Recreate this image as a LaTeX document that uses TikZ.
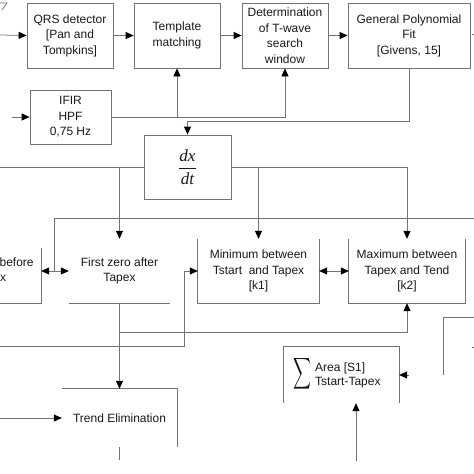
\documentclass[tikz,border=0pt]{standalone}
\usepackage{fontspec}
\usepackage{amsmath}
\usepackage{graphicx}
\setmainfont{Liberation Sans}
\newfontfamily\tnrfont{Liberation Serif}
\usetikzlibrary{arrows.meta}
\newcommand\txtfont{\fontsize{12}{15.5}\selectfont}
\begin{document}
\begin{tikzpicture}[x=1pt,y=-1pt,
  ln/.style={draw=black!55, line width=0.75pt},
  arr/.style={ln, -{Triangle[length=8pt,width=7pt,color=black]}},
  box/.style={draw=black!55, line width=0.75pt, inner sep=0pt, align=center, font=\txtfont, text=black!90},
  obox/.style={inner sep=0pt, align=center, font=\txtfont, text=black!90},
]
\useasboundingbox (0,0) rectangle (474,474);
\clip (0,0) rectangle (474,474);
\fill[white] (0,0) rectangle (474,474);

% top row
\node[box, minimum width=86pt, minimum height=65pt] (qrs) at (70,35.5) {QRS detector\\{}[Pan and\\Tompkins]};
\node[box, minimum width=86pt, minimum height=65pt] (tm) at (177,35.5) {Template\\matching};
\node[box, minimum width=86pt, minimum height=65pt] (det) at (285,35.5) {Determination\\of T-wave\\search\\window};
\node[box, minimum width=122pt, minimum height=65pt] (gpf) at (409,35.5) {General Polynomial\\Fit\\{}[Givens, 15]};
\node[box, minimum width=81pt, minimum height=54pt] (ifir) at (70.5,117) {IFIR\\HPF\\0,75 Hz};
\node[box, minimum width=87pt, minimum height=64pt] (ddt) at (187.5,167)
  {\tnrfont\itshape\fontsize{17}{20}\selectfont $\genfrac{}{}{1.1pt}{0}{\mbox{dx}}{\mbox{dt}}$};

% middle row (open boxes)
\node[obox, minimum width=102pt, minimum height=64pt] (fzb) at (-10,271) {First zero before\\Tapex};
\node[obox, minimum width=101pt, minimum height=64pt] (fza) at (119.5,271) {First zero after\\Tapex};
\node[obox, minimum width=121pt, minimum height=64pt] (minb) at (258.5,271) {Minimum between\\Tstart~ and Tapex\\{}[k1]};
\node[obox, minimum width=116pt, minimum height=64pt] (maxb) at (407,271) {Maximum between\\Tapex and Tend\\{}[k2]};
\draw[ln] (fzb.east |- 0,248) -- (fzb.south east) -- (fzb.south west);
\draw[ln] (fza.south west) -- (fza.south east);
\draw[ln] (minb.north west) -- (minb.south west) -- (minb.south east) -- (minb.north east);
\draw[ln] (maxb.north west) -- (maxb.south west) -- (maxb.south east) -- (maxb.north east);

% bottom
\node[obox, minimum width=115pt, minimum height=58pt] (trend) at (119.5,418) {Trend Elimination};
\draw[ln] (trend.north west) -- (trend.north east) -- (trend.south east);
\node[obox, minimum width=115pt, minimum height=56pt] (area) at (341.5,375) {};
\draw[ln] (area.south west) -- (area.north west) -- (area.north east) -- (area.south east);
\node[obox] (sumsym) at (302.5,374) {\resizebox{18pt}{23pt}{$\displaystyle\sum$}};
\node[obox, anchor=west, align=left, font=\fontsize{12}{14}\selectfont] (areatxt) at (315,375) {Area [S1]\\Tstart-Tapex};

% coordinates for free ends
\coordinate (in0) at (0,35);
\coordinate (in1) at (12,117);
\coordinate (g1) at (187.5,121);
\coordinate (l1) at (0,167);
\coordinate (r1) at (474,218);
\coordinate (k1) at (54,218);
\coordinate (j1) at (54,271);
\coordinate (j2) at (334,271);
\coordinate (l2) at (0,346);
\coordinate (k2) at (184,346);
\coordinate (l3) at (0,418);
\coordinate (b1) at (356,461);
\coordinate (b2) at (409,375);
\coordinate (rb1) at (474,317);
\coordinate (rb2) at (443,317);
\coordinate (rb3) at (443,375);

% connectors
\draw[arr] (in0) -- (qrs.west);
\draw[arr] (qrs.east) -- (tm.west);
\draw[arr] (tm.east) -- (det.west);
\draw[arr] (det.east) -- (gpf.west);
\draw[ln] (472,34.5) -- (474,34.5);
\draw[arr] (in1) -- (ifir.west);
\draw[arr] (ifir.east) -| (det.south);
\draw[arr] (tm.south |- ifir.east) -- (tm.south);
\draw[arr] (gpf.south) |- (g1) -- (ddt.north);
\draw[ln] (ddt.west) -- (l1);
\draw[arr] (fza.north |- ddt.west) -- (fza.north);
\draw[arr] (ddt.east) -| (maxb.north);
\draw[arr] (minb.north |- ddt.east) -- (minb.north);
\draw[ln] (r1) -- (k1) -- (j1);
\draw[arr] (j1) -- (fzb.east);
\draw[arr] (j1) -- (fza.west);
\draw[arr] (j2) -- (minb.east);
\draw[arr] (j2) -- (maxb.west);
\draw[arr] (l2) -- (k2) |- (minb.west);
\draw[arr] (fza.south) -- (trend.north);
\draw[arr] (fza.south |- 0,332) -| (maxb.south);
\draw[arr] (l3) -- (trend.west);
\draw[ln] (trend.south) -- ++(0,13);
\draw[arr] (b1) -- (b1 |- area.south);
\draw[arr] (b2) -- (area.east);
\draw[ln] (rb1) -- (rb2) -- (rb3);
\draw[ln] (472,347) -- (474,347);
\draw[ln] (0,3) -- (7,3) -- (2,10);
\end{tikzpicture}
\end{document}
